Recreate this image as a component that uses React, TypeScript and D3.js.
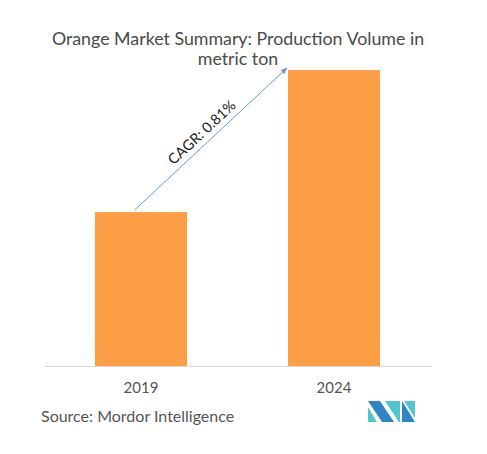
import * as d3 from 'd3';

const years = ['2019', '2024'];
const volumes = [52, 100];
const cagrLabel = 'CAGR: 0.81%';
const titleLines = ['Orange Market Summary: Production Volume in', 'metric ton'];
const sourceText = 'Source: Mordor Intelligence';

const App = () => {
    const width = 487;
    const height = 454;
    const baseY = 366;

    const x = d3.scaleBand()
        .domain(years)
        .range([44, 431])
        .paddingInner(0.523)
        .paddingOuter(0.264);

    const y = d3.scaleLinear()
        .domain([0, 100])
        .range([baseY, 70]);

    const bw = x.bandwidth();
    const x0 = (x(years[0]) as number) + bw * 0.43;
    const y0 = y(volumes[0]) - 2;
    const x1 = (x(years[1]) as number) - 1;
    const y1 = y(volumes[1]) - 2;
    const mx = (x0 + x1) / 2;
    const my = (y0 + y1) / 2;
    const angle = Math.atan2(y1 - y0, x1 - x0) * 180 / Math.PI;

    const font = 'Lato, "Open Sans", sans-serif';

    return (
        <svg width={width} height={height} style={{ display: 'block' }}>
            <style>{'body{margin:0}'}</style>
            <defs>
                <marker id="arrowHead" viewBox="0 0 10 10" refX="9" refY="5"
                    markerWidth="7" markerHeight="7" orient="auto">
                    <path d="M0,1 L10,5 L0,9 z" fill="#6b9bd0" />
                </marker>
            </defs>
            <rect width={width} height={height} fill="#fff" />

            {titleLines.map((t, i) => (
                <text key={t} x={238} y={45 + i * 20} textAnchor="middle"
                    fontFamily={font} fontSize={17.8} fill="#4a4a4a">{t}</text>
            ))}

            {years.map((yr, i) => (
                <rect key={yr} x={x(yr)} y={y(volumes[i])} width={bw}
                    height={baseY - y(volumes[i])} fill="#fc9e45" />
            ))}

            <line x1={44} x2={431} y1={baseY + 0.5} y2={baseY + 0.5} stroke="#d9d9d9" />

            {years.map(yr => (
                <text key={yr} x={(x(yr) as number) + bw / 2} y={393} textAnchor="middle"
                    fontFamily={font} fontSize={15} fill="#555">{yr}</text>
            ))}

            <line x1={x0} y1={y0} x2={x1} y2={y1} stroke="#6b9bd0" strokeWidth={1}
                markerEnd="url(#arrowHead)" />
            <g transform={`translate(${mx},${my}) rotate(${angle})`}>
                <text x={-2} y={-6} textAnchor="middle" fontFamily={font}
                    fontSize={14.5} fill="#222">{cagrLabel}</text>
            </g>

            <text x={41} y={422} fontFamily={font} fontSize={16} fill="#555">{sourceText}</text>

            <g>
                <polygon points="368,401 380,401 394,422 382,422" fill="#2f86c2" />
                <polygon points="368,407 368,422 377,422" fill="#52c5ca" />
                <polygon points="385,401 400,401 400,422 399,422" fill="#52c5ca" />
                <polygon points="402,401 402,422 415,422" fill="#2f86c2" />
                <polygon points="404,401 415,401 415,418" fill="#52c5ca" />
            </g>
        </svg>
    );
};

export default App;
